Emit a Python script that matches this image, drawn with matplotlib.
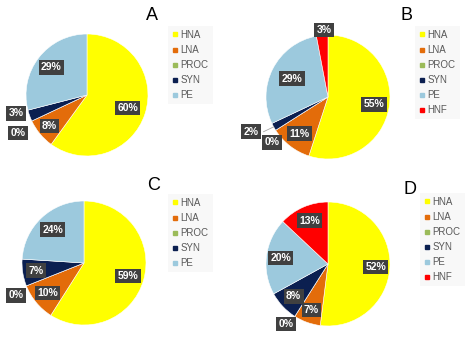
import numpy as np
import matplotlib
matplotlib.use("Agg")
import matplotlib.pyplot as plt
from matplotlib.lines import Line2D

plt.rcParams['font.family'] = ['Liberation Sans', 'DejaVu Sans']

# ---- data ----
cats5 = ["HNA", "LNA", "PROC", "SYN", "PE"]
cats6 = ["HNA", "LNA", "PROC", "SYN", "PE", "HNF"]
vals_A = [60, 8, 0, 3, 29]
vals_B = [55, 11, 0, 2, 29, 3]
vals_C = [59, 10, 0, 7, 24]
vals_D = [52, 7, 0, 8, 20, 13]
panel_titles = ["A", "B", "C", "D"]

colors = {"HNA": "#FFFF00", "LNA": "#E36C0A", "PROC": "#9BBB59",
          "SYN": "#0B1F50", "PE": "#9CC9DD", "HNF": "#FF0000"}

W, H = 474, 339
fig = plt.figure(figsize=(W / 100, H / 100), dpi=100)
fig.patch.set_facecolor("white")

# layout (pixels): pie center, radius, title pos, legend anchor
panels = [
    dict(vals=vals_A, cats=cats5, c=(87, 95), r=61, t=(152, 16), lg=(168, 26),
         lab_r=[0.70, 0.80, None, None, 0.74],
         outside={2: (-1.13, -0.62), 3: (-1.16, -0.30)}, leader={}),
    dict(vals=vals_B, cats=cats6, c=(328, 97), r=62, t=(407, 16), lg=(415, 26),
         lab_r=[0.75, 0.75, None, None, 0.65, None],
         outside={2: (-0.90, -0.73), 3: (-1.24, -0.56), 5: (-0.06, 1.08)},
         leader={3: True}),
    dict(vals=vals_C, cats=cats5, c=(84, 263), r=62, t=(154, 186), lg=(168, 194),
         lab_r=[0.74, 0.76, None, 0.78, 0.74],
         outside={2: (-1.10, -0.52)}, leader={}),
    dict(vals=vals_D, cats=cats6, c=(328, 264), r=62, t=(410, 190), lg=(420, 193),
         lab_r=[0.77, 0.79, None, 0.76, 0.77, 0.76],
         outside={2: (-0.68, -0.97)}, leader={}),
]

box = dict(boxstyle="square,pad=0.22", fc="#404040", ec="#404040", lw=0)

for p, title in zip(panels, panel_titles):
    cx, cy = p["c"]
    r = p["r"]
    half = 1.6 * r
    ax = fig.add_axes([(cx - half) / W, (H - cy - half) / H, 2 * half / W, 2 * half / H])
    vals = p["vals"]
    cats = p["cats"]
    wedges, _ = ax.pie(vals, colors=[colors[c] for c in cats], startangle=90,
                       counterclock=False, radius=1,
                       wedgeprops=dict(linewidth=0.4, edgecolor="white"))
    ax.set_xlim(-1.6, 1.6)
    ax.set_ylim(-1.6, 1.6)
    ax.set_aspect("equal")
    ax.axis("off")
    for i, (w, v) in enumerate(zip(wedges, vals)):
        mid = np.deg2rad((w.theta1 + w.theta2) / 2)
        if i in p["outside"]:
            x, y = p["outside"][i]
        else:
            rr = p["lab_r"][i]
            x, y = rr * np.cos(mid), rr * np.sin(mid)
        if p["leader"].get(i):
            ex, ey = np.cos(mid), np.sin(mid)
            ax.plot([x + 0.2, ex], [y, ey], color="#A6A6A6", lw=0.6, zorder=3)
        ax.text(x, y, f"{v}%", ha="center", va="center", color="white",
                fontsize=7.5, fontweight="bold", bbox=box, zorder=5)
    tx, ty = p["t"]
    fig.text(tx / W, 1 - ty / H, title, ha="center", va="center", fontsize=13)
    handles = [Line2D([], [], marker="s", ls="", color=colors[c], markersize=3.5)
               for c in cats]
    lx, ly = p["lg"]
    leg = fig.legend(handles, cats, loc="upper left",
                     bbox_to_anchor=(lx / W, 1 - ly / H), fontsize=7,
                     frameon=True, fancybox=False, labelspacing=0.52,
                     handlelength=0.6, handletextpad=0.3, borderpad=0.4,
                     borderaxespad=0)
    leg.get_frame().set_facecolor("#F7F7F7")
    leg.get_frame().set_edgecolor("none")
    for t in leg.get_texts():
        t.set_color("#595959")

fig.savefig("out.png", dpi=100, facecolor="white")
